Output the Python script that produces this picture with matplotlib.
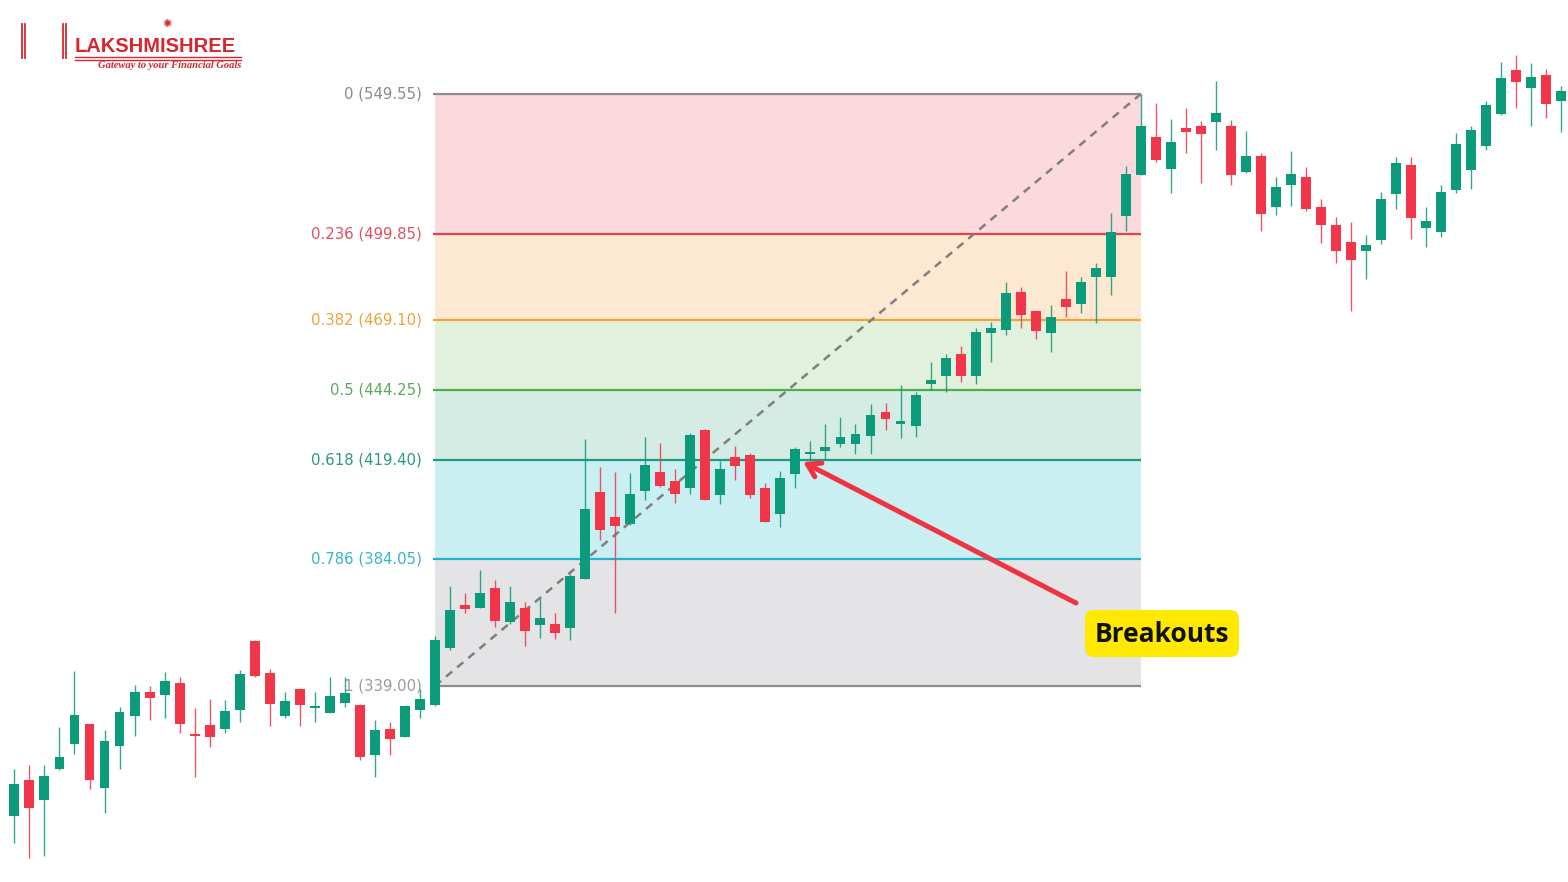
import matplotlib
matplotlib.use('Agg')
import matplotlib.pyplot as plt
from matplotlib import font_manager
from matplotlib.patches import FancyBboxPatch

# candle data (price units)
opens = [292.8, 305.6, 298.5, 309.5, 318.3, 325.4, 302.6, 317.8, 328.4, 336.8,
         335.7, 340.0, 321.8, 325.1, 323.6, 330.4, 355.0, 343.7, 328.4, 338.0,
         331.3, 329.5, 333.1, 332.2, 314.5, 323.7, 320.8, 330.4, 332.2, 352.5,
         367.8, 366.8, 373.7, 361.9, 366.6, 360.7, 361.0, 359.5, 377.1, 407.9,
         399.2, 396.5, 408.4, 415.2, 412.0, 409.3, 430.1, 406.9, 420.6, 421.2,
         409.3, 400.0, 414.3, 421.6, 422.7, 425.1, 424.9, 428.0, 436.3, 432.2,
         431.6, 446.3, 449.3, 457.1, 449.3, 464.4, 465.6, 479.0, 472.4, 464.4,
         476.6, 474.9, 484.3, 484.3, 506.2, 520.9, 534.1, 522.8, 537.3, 538.3,
         539.7, 538.3, 521.9, 527.6, 509.5, 517.2, 520.0, 509.5, 502.9, 496.9,
         493.6, 497.6, 514.0, 524.3, 501.8, 500.4, 515.4, 522.5, 531.0, 542.4,
         558.1, 551.6, 556.3, 547.0]
highs = [309.4, 310.9, 310.9, 324.5, 344.4, 325.5, 323.4, 331.4, 339.2, 339.1,
         344.1, 342.1, 331.1, 334.5, 334.0, 344.7, 355.4, 344.9, 337.0, 338.2,
         337.0, 342.3, 342.3, 332.5, 326.9, 326.2, 332.0, 337.8, 356.8, 374.7,
         372.2, 380.3, 376.7, 374.6, 369.0, 370.2, 364.8, 378.8, 426.9, 417.0,
         415.0, 414.6, 427.7, 425.3, 416.1, 429.1, 430.5, 419.1, 424.5, 421.8,
         411.3, 415.5, 424.1, 426.1, 432.1, 434.8, 432.2, 439.2, 439.5, 446.1,
         443.7, 454.3, 457.0, 460.0, 466.2, 468.5, 482.7, 480.9, 472.7, 474.4,
         486.7, 484.3, 489.5, 507.1, 523.9, 549.55, 546.2, 540.5, 544.7, 540.1,
         554.3, 540.3, 536.5, 528.7, 520.0, 529.1, 523.7, 512.1, 505.7, 504.2,
         499.4, 514.8, 527.0, 527.3, 509.2, 517.2, 535.6, 538.2, 547.2, 561.0,
         563.4, 560.5, 558.3, 552.5]
lows = [283.0, 277.9, 278.5, 309.2, 314.7, 302.2, 293.7, 309.4, 321.1, 326.9,
        327.5, 322.4, 306.5, 317.4, 322.2, 326.3, 342.3, 324.9, 327.7, 324.9,
        326.3, 329.3, 331.6, 312.7, 306.5, 314.5, 320.7, 327.5, 332.0, 351.8,
        365.1, 366.7, 360.1, 361.1, 353.1, 355.9, 355.7, 355.4, 377.0, 390.9,
        364.8, 396.2, 405.2, 409.7, 404.2, 407.2, 405.0, 403.6, 412.4, 405.8,
        397.2, 395.6, 409.5, 419.4, 419.4, 424.1, 421.4, 421.6, 430.1, 427.1,
        427.7, 444.3, 443.7, 447.1, 446.4, 454.3, 464.0, 466.2, 462.3, 457.9,
        470.3, 471.6, 468.0, 478.1, 500.8, 520.8, 525.4, 514.2, 528.5, 517.8,
        529.6, 517.2, 521.3, 500.9, 506.5, 509.8, 508.1, 496.7, 489.5, 472.5,
        483.6, 496.2, 508.6, 497.9, 495.1, 498.6, 514.5, 515.6, 529.6, 542.2,
        544.5, 538.3, 541.0, 536.1]
closes = [304.0, 295.7, 307.0, 313.9, 328.7, 305.6, 319.5, 329.8, 336.8, 334.6,
          340.8, 325.6, 321.3, 320.8, 330.2, 343.3, 342.4, 332.6, 333.8, 332.1,
          331.4, 335.5, 336.4, 313.6, 323.4, 320.2, 332.0, 334.4, 355.4, 366.0,
          366.4, 372.2, 362.1, 368.8, 358.7, 363.1, 358.0, 378.2, 402.0, 394.5,
          395.9, 407.3, 417.6, 410.1, 407.3, 428.3, 405.2, 416.0, 417.4, 406.9,
          397.4, 412.8, 423.3, 421.9, 424.1, 427.7, 428.6, 435.4, 433.8, 433.3,
          442.5, 447.8, 455.8, 449.3, 465.0, 466.2, 478.6, 471.0, 465.3, 470.3,
          473.7, 482.8, 487.6, 500.6, 521.1, 538.3, 526.1, 532.6, 536.1, 535.3,
          542.7, 520.8, 527.6, 506.8, 516.4, 521.1, 508.6, 502.9, 493.8, 490.5,
          495.9, 512.1, 525.1, 505.3, 504.4, 514.8, 531.7, 536.9, 545.5, 555.1,
          553.7, 555.5, 545.9, 550.6]

# fibonacci retracement drawn from candle 28 (low) to candle 75 (high)
fib_ratios = [0, 0.236, 0.382, 0.5, 0.618, 0.786, 1]
fib_prices = [549.55, 499.85, 469.10, 444.25, 419.40, 384.05, 339.00]
fib_start, fib_end = 28, 75

line_colors = ['#8c8c8c', '#e6414d', '#f0a437', '#4caf50', '#1e9a80', '#22b4c6', '#8c8c8c']
text_colors = ['#8a8a8a', '#e0505c', '#eda33a', '#5aa95a', '#2a9a82', '#38b4c5', '#9a9a9a']
band_colors = ['#fbd9dc', '#fde8d1', '#e1f1dc', '#d4ece4', '#c9eff2', '#e4e4e6']
GREEN = '#0b9a7a'
RED = '#f03648'

#-------------------------------------------------------------------------------
fig = plt.figure(figsize=(15.68, 8.82), dpi=100)
fig.patch.set_facecolor('white')
ax = fig.add_axes([0, 0, 1, 1])
ax.set_xlim(-0.959, 103.44)
ax.set_ylim(269.29, 582.98)
ax.axis('off')

for i in range(len(band_colors)):
    ax.fill_between([fib_start, fib_end], fib_prices[i + 1], fib_prices[i],
                    color=band_colors[i], lw=0, zorder=0)
for r, p, lc, tc in zip(fib_ratios, fib_prices, line_colors, text_colors):
    ax.hlines(p, fib_start - 0.15, fib_end, color=lc, lw=1.6, zorder=1)
    ax.text(fib_start - 0.87, p, '%g (%.2f)' % (r, p), color=tc, fontsize=10.7,
            ha='right', va='center', zorder=1)

ax.plot([fib_start, fib_end], [fib_prices[-1], fib_prices[0]], color='#7f7f7f',
        lw=1.8, linestyle=(0, (3.2, 2.6)), zorder=2)

# candles
for i in range(len(opens)):
    o, h, l, c = opens[i], highs[i], lows[i], closes[i]
    col = GREEN if c >= o else RED
    ax.vlines(i, l, h, color=col, lw=1.0, alpha=0.85, zorder=3)
    body = max(abs(c - o), 0.55)
    ax.bar(i, body, bottom=min(o, c), width=0.66, color=col, lw=0, zorder=4)

#-------------------------------------------------------------------------------
# overlay in pixel units: logo, arrow and label
ov = fig.add_axes([0, 0, 1, 1], facecolor='none')
ov.set_xlim(0, 1568)
ov.set_ylim(882, 0)
ov.axis('off')

names = set(f.name for f in font_manager.fontManager.ttflist)
if 'Liberation Sans Narrow' in names:
    logo_family, logo_size = 'Liberation Sans Narrow', 17.5
else:
    logo_family, logo_size = 'Liberation Sans', 14.5

logo = '#d7262f'
for x in [22, 25, 63.5, 66.5]:
    ov.plot([x, x], [24, 58], color=logo, lw=1.3)
ov.text(75, 52.5, 'LAKSHMISHREE', color=logo, fontsize=logo_size, fontweight='bold',
        family=logo_family, ha='left', va='baseline')
ov.plot([75, 241], [56.8, 56.8], color=logo, lw=1.0)
ov.plot([75, 241], [59.5, 59.5], color=logo, lw=1.0)
ov.text(241, 68.5, 'Gateway to your Financial Goals', color=logo, fontsize=7.6,
        family='Liberation Serif', style='italic', fontweight='bold',
        ha='right', va='baseline')
ov.text(167, 24, '\u273a', color=logo, fontsize=8, ha='center', va='center',
        family='DejaVu Sans')

ov.annotate('', xy=(803, 462), xytext=(1076, 603),
            arrowprops=dict(arrowstyle='->,head_length=0.9,head_width=0.55',
                            color='#ef3340', lw=3.6, shrinkA=0, shrinkB=0))

box = FancyBboxPatch((1085, 610), 154, 47, boxstyle='round,pad=0,rounding_size=9',
                     facecolor='#ffe900', edgecolor='none')
ov.add_patch(box)
ov.text(1162, 634, 'Breakouts', fontsize=19, fontweight='bold', family='Open Sans',
        color='#111111', ha='center', va='center')

plt.savefig('out.png', dpi=100)
